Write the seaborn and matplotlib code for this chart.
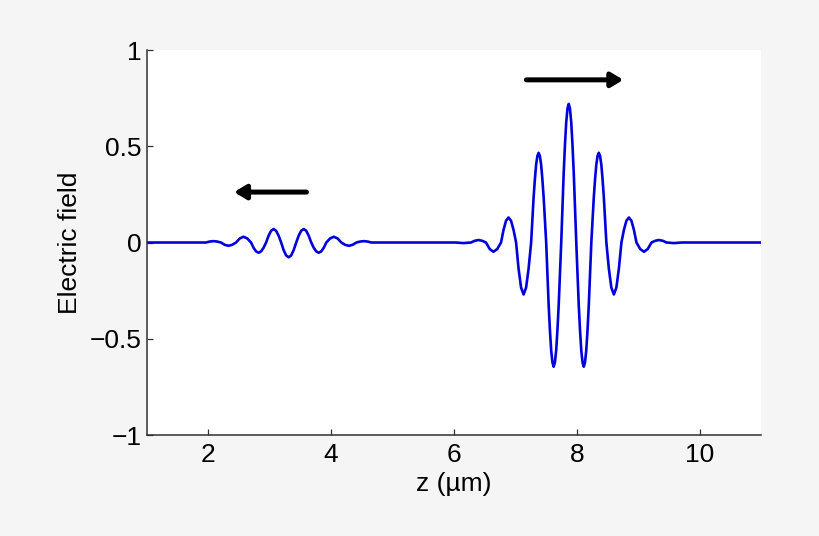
import matplotlib
matplotlib.use("Agg")
import matplotlib.pyplot as plt
import seaborn as sns

# field profile: z in um, field in arbitrary units
z_um = [
    1.000, 1.963,
    # reflected (left-moving) packet
    2.024, 2.085, 2.146, 2.208,
    2.269, 2.330, 2.391, 2.453,
    2.514, 2.575, 2.636, 2.698,
    2.738, 2.779, 2.820, 2.861, 2.902, 2.943,
    2.983, 3.024, 3.065, 3.106, 3.147, 3.188,
    3.228, 3.269, 3.310, 3.351, 3.392, 3.433,
    3.473, 3.514, 3.555, 3.596, 3.637, 3.678,
    3.718, 3.759, 3.800, 3.841, 3.882, 3.923,
    3.984, 4.045, 4.106, 4.168,
    4.229, 4.290, 4.351, 4.413,
    4.474, 4.535, 4.596, 4.658,
    # transmitted (right-moving) packet
    6.033, 6.155, 6.278,
    6.339, 6.400, 6.461, 6.523,
    6.584, 6.645, 6.706, 6.768,
    6.808, 6.849, 6.890, 6.931, 6.972, 7.013,
    7.053, 7.094, 7.135, 7.176, 7.217, 7.258,
    7.298, 7.319, 7.339, 7.360, 7.380, 7.400, 7.421, 7.441, 7.462, 7.503,
    7.543, 7.564, 7.584, 7.605, 7.625, 7.645, 7.666, 7.686, 7.707, 7.748,
    7.788, 7.809, 7.829, 7.850, 7.870, 7.890, 7.911, 7.931, 7.952, 7.993,
    8.033, 8.054, 8.074, 8.095, 8.115, 8.135, 8.156, 8.176, 8.197, 8.238,
    8.278, 8.299, 8.319, 8.340, 8.360, 8.380, 8.401, 8.421, 8.442, 8.483,
    8.523, 8.564, 8.605, 8.646, 8.687, 8.728,
    8.768, 8.809, 8.850, 8.891, 8.932, 8.973,
    9.034, 9.095, 9.156, 9.218,
    9.279, 9.340, 9.401, 9.463,
    9.585, 9.708, 11.000,
]
field = [
    0.000, 0.000,
    0.005, 0.007, 0.005, 0.000,
    -0.012, -0.017, -0.012, 0.000,
    0.021, 0.030, 0.021, 0.000,
    -0.027, -0.046, -0.053, -0.046, -0.027, 0.000,
    0.035, 0.061, 0.070, 0.061, 0.035, 0.000,
    -0.039, -0.067, -0.077, -0.067, -0.039, 0.000,
    0.035, 0.061, 0.070, 0.061, 0.035, 0.000,
    -0.027, -0.046, -0.053, -0.046, -0.027, 0.000,
    0.021, 0.030, 0.021, 0.000,
    -0.012, -0.017, -0.012, 0.000,
    0.005, 0.007, 0.005, 0.000,
    0.000, -0.003, 0.000,
    0.009, 0.013, 0.009, 0.000,
    -0.034, -0.048, -0.034, 0.000,
    0.065, 0.113, 0.130, 0.113, 0.065, 0.000,
    -0.135, -0.234, -0.270, -0.234, -0.135, 0.000,
    0.233, 0.329, 0.404, 0.450, 0.466, 0.450, 0.404, 0.329, 0.233, 0.000,
    -0.323, -0.456, -0.559, -0.623, -0.645, -0.623, -0.559, -0.456, -0.323, 0.000,
    0.360, 0.509, 0.624, 0.696, 0.720, 0.696, 0.624, 0.509, 0.360, 0.000,
    -0.323, -0.456, -0.559, -0.623, -0.645, -0.623, -0.559, -0.456, -0.323, 0.000,
    0.233, 0.329, 0.404, 0.450, 0.466, 0.450, 0.404, 0.329, 0.233, 0.000,
    -0.135, -0.234, -0.270, -0.234, -0.135, 0.000,
    0.065, 0.113, 0.130, 0.113, 0.065, 0.000,
    -0.034, -0.048, -0.034, 0.000,
    0.009, 0.013, 0.009, 0.000,
    -0.003, 0.000, 0.000,
]

x_ticks = [2, 4, 6, 8, 10]
y_ticks = [-1, -0.5, 0, 0.5, 1]
y_ticklabels = ["\u22121", "\u22120.5", "0", "0.5", "1"]

# propagation arrows: (tail, tip) in data units
arrow_right = [(7.18, 0.845), (8.76, 0.845)]
arrow_left = [(3.60, 0.262), (2.42, 0.262)]

sns.set_theme(style="ticks")
plt.rcParams["font.family"] = ["Liberation Sans", "DejaVu Sans"]
plt.rcParams["text.color"] = "black"
plt.rcParams["axes.labelcolor"] = "black"

fig = plt.figure(figsize=(8.2, 5.36), dpi=100, facecolor="#f5f5f5")
ax = fig.add_axes([0.179, 0.1884, 0.749, 0.7183])
ax.set_facecolor("white")

sns.lineplot(x=z_um, y=field, ax=ax, color="#0000dd", linewidth=1.9,
             estimator=None, sort=False)

for tail, tip in (arrow_right, arrow_left):
    ax.annotate("", xy=tip, xytext=tail,
                arrowprops=dict(arrowstyle="-|>,head_length=0.5,head_width=0.3",
                                color="black", lw=3.6, shrinkA=0, shrinkB=0,
                                mutation_scale=14))

ax.set_xlim(1, 11)
ax.set_ylim(-1, 1)
ax.set_xticks(x_ticks)
ax.set_yticks(y_ticks)
ax.set_yticklabels(y_ticklabels)

sns.despine(ax=ax)
for side in ("left", "bottom"):
    ax.spines[side].set_color("#303030")
    ax.spines[side].set_linewidth(1.1)
ax.tick_params(direction="in", length=4, width=0.9, color="#303030",
               labelsize=19, labelcolor="black")
ax.tick_params(axis="x", pad=6)
ax.tick_params(axis="y", pad=4)

ax.set_xlabel("z (\u00b5m)", fontsize=19, labelpad=3)
ax.set_ylabel("Electric field", fontsize=19, labelpad=5)

fig.savefig("out.png", dpi=100, facecolor=fig.get_facecolor())
